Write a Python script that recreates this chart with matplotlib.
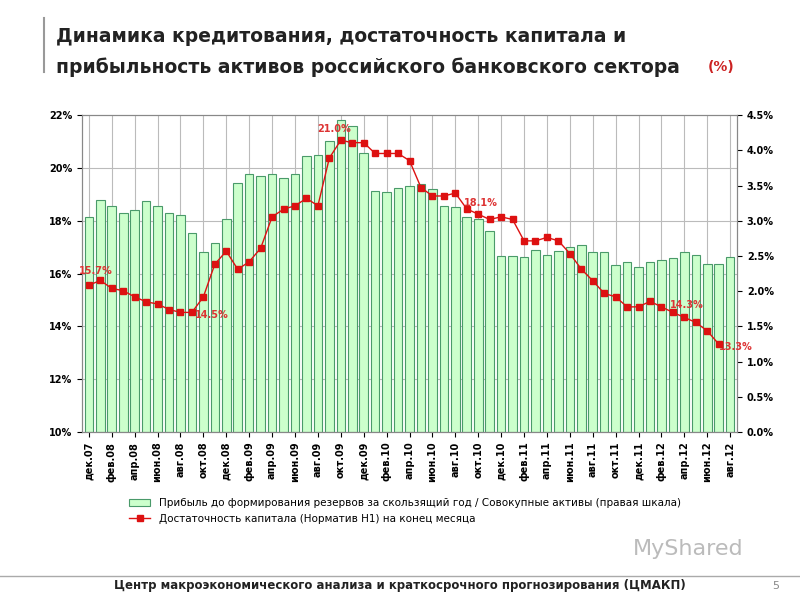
import numpy as np
import matplotlib.pyplot as plt

# --- DATOS ---
months = ["янв", "фев", "мар", "апр", "май", "июн", "июл", "авг", "сен", "окт", "ноя", "дек"]
labels = []
for k in range(57):
    m = (11 + k) % 12
    y = 7 + (11 + k) // 12
    labels.append(f"{months[m]}.{y:02d}")

# прибыль / активы, % (правая шкала)
roa = [3.05, 3.30, 3.21, 3.11, 3.16, 3.28, 3.21, 3.11, 3.08, 2.82, 2.55, 2.68, 3.03,
       3.53, 3.66, 3.63, 3.66, 3.61, 3.67, 3.92, 3.93, 4.14, 4.43, 4.35, 3.97, 3.43,
       3.41, 3.47, 3.49, 3.52, 3.45, 3.21, 3.19, 3.05, 3.03, 2.86, 2.50, 2.50, 2.49,
       2.58, 2.52, 2.57, 2.63, 2.66, 2.56, 2.55, 2.37, 2.41, 2.35, 2.41, 2.45, 2.47,
       2.56, 2.51, 2.39, 2.39, 2.48]
# норматив Н1, % (левая шкала)
h1 = [15.56, 15.74, 15.44, 15.35, 15.12, 14.93, 14.85, 14.64, 14.53, 14.53, 15.12,
      16.36, 16.85, 16.16, 16.45, 16.96, 18.15, 18.44, 18.57, 18.85, 18.57, 20.38,
      21.05, 20.96, 20.96, 20.55, 20.55, 20.55, 20.28, 19.26, 18.94, 18.94, 19.05,
      18.45, 18.25, 18.05, 18.15, 18.05, 17.24, 17.24, 17.37, 17.24, 16.76, 16.17,
      15.73, 15.25, 15.12, 14.74, 14.74, 14.95, 14.74, 14.53, 14.34, 14.15, 13.83,
      13.33, np.nan]
notes = {1: "15.7%", 9: "14.5%", 22: "21.0%", 35: "18.1%", 52: "14.3%", 55: "13.3%"}
note_off = {1: (-3, 5), 9: (14, -4), 22: (-5, 6), 35: (-6, 10), 52: (2, 7), 55: (12, -4)}

x = np.arange(len(labels))
fig = plt.figure(figsize=(8, 6), dpi=100)
ax2 = fig.add_axes([0.1025, 0.28, 0.8188, 0.528])
ax = ax2.twinx()
ax2.yaxis.tick_right()
ax.yaxis.tick_left()

ax2.bar(x, roa, width=0.75, color="#ccffcc", edgecolor="#4a9a6a", linewidth=0.8,
        label="Прибыль до формирования резервов за скользящий год / Совокупные активы (правая шкала)", zorder=2)
ax2.set_ylim(0, 4.5)
ax2.set_yticks(np.arange(0, 4.51, 0.5))
ax2.set_yticklabels([f"{v:.1f}%" for v in np.arange(0, 4.51, 0.5)], fontsize=7, fontweight="bold")
ax2.set_xticks(x[::2])
ax2.set_xticklabels(labels[::2], rotation=90, fontsize=7, fontweight="bold")
ax2.set_xlim(-0.6, len(x) - 0.4)
ax2.grid(True, axis="x", color="#bbbbbb", linewidth=0.8, zorder=0)
ax2.set_axisbelow(True)

ax.plot(x, h1, "-s", color="#dd1111", markersize=4, linewidth=1, zorder=5,
        label="Достаточность капитала (Норматив Н1) на конец месяца")
ax.set_ylim(10, 22)
ax.set_yticks(range(10, 23, 2))
ax.set_yticklabels([f"{v}%" for v in range(10, 23, 2)], fontsize=7, fontweight="bold")
for v in range(12, 22, 2):
    ax2.axhline((v - 10) * 4.5 / 12, color="#bbbbbb", linewidth=0.8, zorder=0)
for i, t in notes.items():
    dx, dy = note_off[i]
    ax.annotate(t, (x[i], h1[i]), xytext=(dx, dy), textcoords="offset points",
                color="#dd3333", fontsize=7, fontweight="bold", ha="center")

for a in (ax, ax2):
    for s in a.spines.values():
        s.set_color("#888888")

h_a, l_a = ax2.get_legend_handles_labels()
h_b, l_b = ax.get_legend_handles_labels()
fig.legend(h_a + h_b, l_a + l_b, loc="upper left", bbox_to_anchor=(0.15, 0.185),
           frameon=False, fontsize=7.5, handlelength=2)

# --- TÍTULO Y PIE ---
fig.text(0.07, 0.955, "Динамика кредитования, достаточность капитала и", fontsize=13.5,
         fontweight="bold", color="#222222", va="top")
fig.text(0.07, 0.905, "прибыльность активов российского банковского сектора", fontsize=13.5,
         fontweight="bold", color="#222222", va="top")
fig.text(0.885, 0.9, "(%)", fontsize=10, fontweight="bold", color="#cc2222", va="top")
fig.add_artist(plt.Line2D([0.055, 0.055], [0.88, 0.97], color="#999999", lw=1.5))
fig.add_artist(plt.Line2D([0.0, 1.0], [0.04, 0.04], color="#aaaaaa", lw=1))
fig.text(0.5, 0.018, "Центр макроэкономического анализа и краткосрочного прогнозирования (ЦМАКП)",
         fontsize=8.5, fontweight="bold", ha="center", color="#222222")
fig.text(0.965, 0.018, "5", fontsize=8, color="#888888")
fig.text(0.86, 0.075, "MyShared", fontsize=16, color="#bbbbbb", ha="center")

fig.savefig("out.png", dpi=100, facecolor="white")
